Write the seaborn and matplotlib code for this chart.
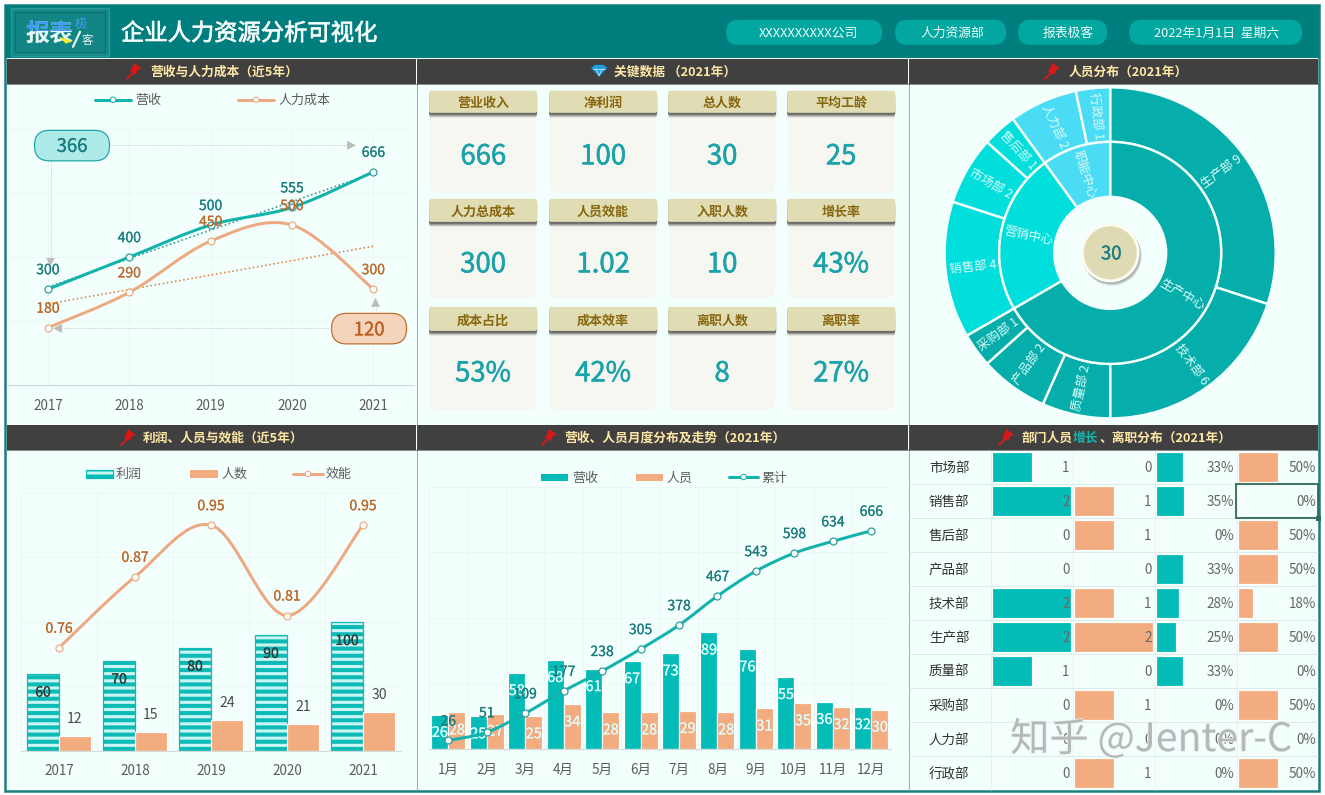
import numpy as np
import pandas as pd
import matplotlib
matplotlib.use("Agg")
import matplotlib.pyplot as plt
import matplotlib.patheffects as pe
from matplotlib.patches import FancyBboxPatch, Rectangle, Polygon, Circle, PathPatch
from matplotlib.path import Path
import seaborn as sns

sns.set_theme(style="white")
plt.rcParams["font.family"] = ["Noto Sans CJK SC", "DejaVu Sans"]
plt.rcParams["hatch.linewidth"] = 3.4
plt.rcParams["axes.unicode_minus"] = False

# ---- data ----
years = ["2017", "2018", "2019", "2020", "2021"]
revenue = [300, 400, 500, 555, 666]
labor_cost = [180, 290, 450, 500, 300]
profit = [60, 70, 80, 90, 100]
headcount = [12, 15, 24, 21, 30]
efficiency = [0.76, 0.87, 0.95, 0.81, 0.95]

months = ["1月", "2月", "3月", "4月", "5月", "6月", "7月", "8月", "9月", "10月", "11月", "12月"]
month_revenue = [26, 25, 58, 68, 61, 67, 73, 89, 76, 55, 36, 32]
month_staff = [28, 27, 25, 34, 28, 28, 29, 28, 31, 35, 32, 30]
month_total = [26, 51, 109, 177, 238, 305, 378, 467, 543, 598, 634, 666]

kpi_titles = ["营业收入", "净利润", "总人数", "平均工龄",
              "人力总成本", "人员效能", "入职人数", "增长率",
              "成本占比", "成本效率", "离职人数", "离职率"]
kpi_values = ["666", "100", "30", "25", "300", "1.02", "10", "43%", "53%", "42%", "8", "27%"]

center_names = ["生产中心", "营销中心", "职能中心"]
center_sizes = [20, 7, 3]
dept_ring_names = ["生产部", "技术部", "质量部", "产品部", "采购部", "销售部", "市场部", "售后部", "人力部", "行政部"]
dept_ring_sizes = [9, 6, 2, 2, 1, 4, 2, 1, 2, 1]

table_depts = ["市场部", "销售部", "售后部", "产品部", "技术部", "生产部", "质量部", "采购部", "人力部", "行政部"]
joined = [1, 2, 0, 0, 2, 2, 1, 0, 0, 0]
left_staff = [0, 1, 1, 0, 1, 2, 0, 1, 0, 1]
growth_pct = [33, 35, 0, 33, 28, 25, 33, 0, 0, 0]
leave_pct = [50, 0, 50, 50, 18, 50, 0, 50, 0, 50]

header_pills = ["XXXXXXXXXX公司", "人力资源部", "报表极客", "2022年1月1日  星期六"]

# ---- palette ----
TEAL = "#04bcb7"
LINE_TEAL = "#12b2ad"
ORANGE = "#f3ac7f"
LINE_ORANGE = "#edaa82"
DARK_TEAL = "#1c7c7e"
DARK_ORANGE = "#bd6a2c"
GREY = "#5c5c5c"
PANEL = "#f2fffd"
GRID = "#ebf8f6"
HEAD = "#007e7e"
BAR_HEAD = "#404040"
GOLD = "#ffe8a6"

# ---- pixel helpers ----
D = 86
W, H = 1325, 795
fig = plt.figure(figsize=((W + 0.2) / D, (H + 0.2) / D), dpi=D, facecolor="white")


def pt(px):
    return px * 72 / D


def heavy(color, px=0.5):
    """Thin same-colour outline that gives text a medium weight."""
    return [pe.withStroke(linewidth=pt(px), foreground=color)]


def panel_axes(x0, y0, x1, y1, z=2):
    ax = fig.add_axes([x0 / W, 1 - y1 / H, (x1 - x0) / W, (y1 - y0) / H], zorder=z)
    ax.patch.set_alpha(0)
    return ax


def smooth_path(xs, ys):
    """Cubic Bezier path running through every point (Catmull-Rom tangents)."""
    xs, ys = np.asarray(xs, float), np.asarray(ys, float)
    verts = [(xs[0], ys[0])]
    codes = [Path.MOVETO]
    n = len(xs)
    for i in range(n - 1):
        p0 = (xs[max(i - 1, 0)], ys[max(i - 1, 0)])
        p3 = (xs[min(i + 2, n - 1)], ys[min(i + 2, n - 1)])
        verts.append((xs[i] + (xs[i + 1] - p0[0]) / 6, ys[i] + (ys[i + 1] - p0[1]) / 6))
        verts.append((xs[i + 1] - (p3[0] - xs[i]) / 6, ys[i + 1] - (p3[1] - ys[i]) / 6))
        verts.append((xs[i + 1], ys[i + 1]))
        codes += [Path.CURVE4] * 3
    return Path(verts, codes)


def draw_curve(ax, values, color, marker_edge=None):
    xs = np.arange(len(values))
    ax.add_patch(PathPatch(smooth_path(xs, values), fill=False, edgecolor=color,
                           lw=pt(3), capstyle="round", zorder=3))
    sns.scatterplot(x=xs, y=values, ax=ax, s=pt(7) ** 2, color="#f4fffd",
                    edgecolor=marker_edge or color, linewidth=pt(1.2), zorder=4, legend=False)
    ax.set_xlabel("")
    ax.set_ylabel("")


def value_labels(ax, values, color, dy, fmt=str, size=14):
    for i, v in enumerate(values):
        ax.annotate(fmt(v), (i, v), xytext=(0, pt(dy)), textcoords="offset points",
                    ha="center", va="center", color=color, fontsize=pt(size), zorder=6,
                    path_effects=heavy(color, 0.2))


def style_chart(ax, labels, grid_on_category=False, tick_pad=10):
    n = len(labels)
    ax.set_xlim(-0.5, n - 0.5)
    ax.set_xticks(np.arange(n))
    ax.set_xticklabels(labels)
    ax.tick_params(axis="x", length=0, pad=pt(tick_pad), labelsize=pt(13.5), labelcolor=GREY)
    ax.tick_params(axis="y", length=0, labelleft=False)
    ax.set_xlabel("")
    ax.set_ylabel("")
    for name in ("top", "left", "right"):
        ax.spines[name].set_visible(False)
    ax.spines["bottom"].set_color("#d2dcdc")
    ax.spines["bottom"].set_linewidth(pt(1.2))
    ax.grid(axis="y", color=GRID, lw=pt(1))
    ax.set_axisbelow(True)
    gx = np.arange(n) if grid_on_category else np.arange(n + 1) - 0.5
    for g in gx:
        ax.axvline(g, color=GRID, lw=pt(1), zorder=0)


# ---- background canvas ----
bg = fig.add_axes([0, 0, 1, 1], zorder=0)
bg.set_xlim(0, W)
bg.set_ylim(H, 0)
bg.axis("off")

bg.add_patch(Rectangle((5, 5), 1314, 786, fc=PANEL, ec=DARK_TEAL, lw=pt(2.5)))
bg.add_patch(Rectangle((5, 5), 1314, 53, fc=HEAD, ec="none"))
for x0, x1 in [(7, 416), (417, 908), (909, 1318)]:
    for y0, y1 in [(59, 84), (425, 450)]:
        bg.add_patch(Rectangle((x0, y0), x1 - x0, y1 - y0, fc=BAR_HEAD, ec="none"))
for x in (416.5, 908.5):
    bg.plot([x, x], [84, 790], color="#3a6a6a", lw=pt(1), ls=(0, (1, 1)))
for y in (84.5, 450.5):
    bg.plot([7, 1318], [y, y], color="#202020", lw=pt(1), ls=(0, (1, 1)))

# logo block
bg.add_patch(Rectangle((11, 8), 98, 48, fc="#178888", ec="#2a9c9c", lw=pt(1.2)))
bg.add_patch(Rectangle((15, 12), 90, 40, fc="#148585", ec="#0b6f70", lw=pt(1.2)))
bg.text(49, 34, "报表", color="#e6f7f7", fontsize=pt(24), fontweight="bold", ha="center", va="center")
logo_top = bg.text(49, 34, "报表", color="#3f9df0", fontsize=pt(24), fontweight="bold",
                   ha="center", va="center", clip_on=True)
logo_top.set_clip_path(Rectangle((0, 0), 120, 31, transform=bg.transData))
bg.add_patch(Polygon([[59, 37], [72, 41], [66, 44]], fc="#f5ee2a", ec="none", zorder=5))
bg.plot([73, 80], [47, 32], color="#eaf7f7", lw=pt(2.2))
bg.text(81, 24, "极", color="#3f9df0", fontsize=pt(12.5), ha="center", va="center")
bg.text(87, 40, "客", color="#eaf7f7", fontsize=pt(11.5), ha="center", va="center")

bg.text(121, 34, "企业人力资源分析可视化", color="#f4fbfb", fontsize=pt(23.3), ha="left", va="center",
        path_effects=heavy("#f4fbfb", 0.7))

pill_spans = [(726, 882), (895, 1006), (1018, 1107), (1129, 1302)]
pill_text_x = [808, 952, 1068, 1216]
for (x0, x1), tx, label in zip(pill_spans, pill_text_x, header_pills):
    bg.add_patch(FancyBboxPatch((x0, 20), x1 - x0, 25, boxstyle="round,pad=0,rounding_size=12.5",
                                fc="#02a8a0", ec="none"))
    bg.text(tx, 33, label, color="#effcfb", fontsize=pt(12.8), ha="center", va="center")


def pin(cx, cy):
    body = [[-1, -8], [7, -2], [3, -1], [1, 4], [-5, 1], [-3, -3]]
    bg.add_patch(Polygon([[cx + a, cy + b] for a, b in body], fc="#d81818", ec="none", zorder=4))
    bg.plot([cx - 2, cx - 8], [cy + 2, cy + 8], color="#d81818", lw=pt(2), zorder=4)


def gem(cx, cy):
    shape = [[-8, -3], [-4, -6], [4, -6], [8, -3], [0, 6]]
    bg.add_patch(Polygon([[cx + a, cy + b] for a, b in shape], fc="#1f9de2", ec="none", zorder=4))
    bg.plot([cx - 6, cx + 6], [cy - 2, cy - 2], color="#bfe8fb", lw=pt(0.8), zorder=5)
    bg.plot([cx - 3, cx, cx + 3], [cy - 2, cy + 5, cy - 2], color="#bfe8fb", lw=pt(0.8), zorder=5)


def section_title(x, y, text):
    bg.text(x, y, text, color=GOLD, fontsize=pt(12.8), fontweight="bold", ha="left", va="center")


pin(135, 71)
section_title(150, 72, "营收与人力成本（近5年）")
gem(599, 71)
section_title(614, 72, "关键数据 （2021年）")
pin(1053, 71)
section_title(1068, 72, "人员分布（2021年）")
pin(129, 437)
section_title(143, 438, "利润、人员与效能（近5年）")
pin(550, 437)
section_title(564, 438, "营收、人员月度分布及走势（2021年）")
pin(1007, 437)
section_title(1021, 438, "部门人员")
bg.text(1073, 438, "增长", color="#12b8b0", fontsize=pt(12.8), fontweight="bold", ha="left", va="center")
section_title(1099, 438, "、离职分布（2021年）")


def legend_line(x0, x1, y, color):
    bg.plot([x0, x1], [y, y], color=color, lw=pt(3))
    bg.add_patch(Circle(((x0 + x1) / 2, y), 2.8, fc="#f4fffd", ec=color, lw=pt(1), zorder=4))


def legend_text(x, y, text):
    bg.text(x, y, text, color=GREY, fontsize=pt(13), ha="left", va="center")


legend_line(95, 131, 100, LINE_TEAL)
legend_text(135, 100, "营收")
legend_line(238, 274, 100, LINE_ORANGE)
legend_text(278, 100, "人力成本")

bg.add_patch(Rectangle((85.5, 470), 27, 8, fc="#c8f6f4", ec=TEAL, lw=pt(1.2), hatch="--"))
legend_text(116, 474, "利润")
bg.add_patch(Rectangle((190, 470), 28, 8, fc=ORANGE, ec="none"))
legend_text(221, 474, "人数")
legend_line(293, 323, 474, LINE_ORANGE)
legend_text(325, 474, "效能")

bg.add_patch(Rectangle((541, 474), 27, 7, fc=TEAL, ec="none"))
legend_text(572, 478, "营收")
bg.add_patch(Rectangle((636, 474), 27, 7, fc=ORANGE, ec="none"))
legend_text(666, 478, "人员")
legend_line(729, 758, 477, LINE_TEAL)
legend_text(761, 478, "累计")

# ---- KPI cards ----
col_spans = [(429, 537), (549, 657), (668, 776), (787, 895)]
row_geom = [(91, 113, 193, 103, 157), (199, 222, 298, 212, 265), (307, 331, 410, 321, 374)]
for r, (head_top, head_bot, body_bot, title_y, value_y) in enumerate(row_geom):
    for c, (x0, x1) in enumerate(col_spans):
        k = r * 4 + c
        bg.add_patch(FancyBboxPatch((x0 + 1, head_bot - 4), x1 - x0 - 2, body_bot - head_bot + 4,
                                    boxstyle="round,pad=0,rounding_size=8", fc="#f7f7f2", ec="none"))
        for off, alpha in ((5, 0.10), (4, 0.18), (3, 0.30), (2, 0.40)):
            bg.add_patch(FancyBboxPatch((x0, head_top + off), x1 - x0, head_bot - head_top,
                                        boxstyle="round,pad=0,rounding_size=2",
                                        fc="#303030", ec="none", alpha=alpha))
        bg.add_patch(FancyBboxPatch((x0, head_top), x1 - x0, head_bot - head_top,
                                    boxstyle="round,pad=0,rounding_size=2", fc="#e0dcb3", ec="none"))
        bg.text((x0 + x1) / 2, title_y, kpi_titles[k], color="#86660f", fontsize=pt(13),
                fontweight="bold", ha="center", va="center")
        bg.text((x0 + x1) / 2, value_y, kpi_values[k], color="#1ba2aa", fontsize=pt(27.5),
                ha="center", va="center", path_effects=heavy("#1ba2aa", 0.55))

# ---- revenue vs labour cost ----
ax1 = panel_axes(7.3, 129, 414, 385.5)
ax1.set_ylim(0, 800)
style_chart(ax1, years, grid_on_category=True, tick_pad=13)
ax1.set_yticks([0, 200, 400, 600, 800])
xs5 = np.arange(len(years))
for series, trend_color in ((revenue, "#2f9494"), (labor_cost, "#d98345")):
    slope, intercept = np.polyfit(xs5, series, 1)
    ax1.plot(xs5, slope * xs5 + intercept, color=trend_color, lw=pt(1.6), ls=(0, (1, 1.6)), zorder=2)
draw_curve(ax1, labor_cost, LINE_ORANGE)
draw_curve(ax1, revenue, LINE_TEAL, marker_edge="#2c9a9a")
value_labels(ax1, revenue, DARK_TEAL, 19)
value_labels(ax1, labor_cost, DARK_ORANGE, 19)

# ---- profit, headcount, efficiency ----
frame = pd.DataFrame({
    "year": years * 2,
    "value": profit + headcount,
    "kind": ["利润"] * 5 + ["人数"] * 5,
})
ax2 = panel_axes(21, 493, 401, 751)
sns.barplot(data=frame, x="year", y="value", hue="kind", hue_order=["利润", "人数"],
            palette=["#c8f6f4", ORANGE], width=0.84, gap=0, saturation=1, legend=False, ax=ax2)
ax2.set_ylim(0, 200)
style_chart(ax2, years, tick_pad=13)
ax2.set_yticks([0, 50, 100, 150, 200])
for patch in ax2.containers[0]:
    patch.set(hatch="--", edgecolor="#0ebab5", linewidth=pt(1.2), facecolor="#c8f6f4")
for t in ax2.bar_label(ax2.containers[0], padding=-pt(19), color="#2e3a3a", fontsize=pt(14),
                       path_effects=heavy("#2e3a3a", 0.2)):
    t.set_va("center")
for t in ax2.bar_label(ax2.containers[1], padding=pt(17), color="#4a4a4a", fontsize=pt(14)):
    t.set_va("center")
ax2b = ax2.twinx()
ax2b.patch.set_alpha(0)
ax2b.set_ylim(0.6, 1.0)
ax2b.axis("off")
draw_curve(ax2b, efficiency, LINE_ORANGE)
value_labels(ax2b, efficiency, DARK_ORANGE, 19, fmt=lambda v: f"{v:.2f}")

# ---- monthly revenue and staff ----
frame_m = pd.DataFrame({
    "month": months * 2,
    "value": month_revenue + month_staff,
    "kind": ["营收"] * 12 + ["人员"] * 12,
})
ax3 = panel_axes(429, 487, 890.4, 749)
sns.barplot(data=frame_m, x="month", y="value", hue="kind", hue_order=["营收", "人员"],
            palette=[TEAL, ORANGE], width=0.885, gap=0, saturation=1, legend=False, ax=ax3)
ax3.set_ylim(0, 200)
style_chart(ax3, months, tick_pad=13.5)
ax3.set_yticks([0, 50, 100, 150, 200])
for cont in ax3.containers:
    for t in ax3.bar_label(cont, padding=-pt(18), color="#dffcfa", fontsize=pt(14.5),
                           path_effects=heavy("#dffcfa", 0.2)):
        t.set_va("center")
ax3b = ax3.twinx()
ax3b.patch.set_alpha(0)
ax3b.set_ylim(0, 800)
ax3b.axis("off")
draw_curve(ax3b, month_total, LINE_TEAL, marker_edge="#2c9a9a")
value_labels(ax3b, month_total, DARK_TEAL, 19)

# ---- staff sunburst ----
ax4 = panel_axes(1110 - 170, 253 - 170, 1110 + 170, 253 + 170)
R_OUT, R_MID, R_IN = 165.5, 111, 56
ring_colors_in = ["#06aeab", "#00dfdc", "#4bdcf5"]
ring_colors_out = ["#06aeab"] * 5 + ["#00dfdc"] * 3 + ["#4bdcf5"] * 2
ax4.pie(dept_ring_sizes, radius=R_OUT, startangle=90, counterclock=False, colors=ring_colors_out,
        wedgeprops=dict(width=R_OUT - R_MID, edgecolor="#f4fffd", linewidth=pt(2.4)))
ax4.pie(center_sizes, radius=R_MID, startangle=90, counterclock=False, colors=ring_colors_in,
        wedgeprops=dict(width=R_MID - R_IN, edgecolor="#f4fffd", linewidth=pt(2.4)))
ax4.set_xlim(-170, 170)
ax4.set_ylim(-170, 170)
ax4.set_aspect("equal")


def ring_labels(sizes, texts, radius):
    total = sum(sizes)
    start = 0.0
    for size, text in zip(sizes, texts):
        mid = start + size / 2
        start += size
        theta = 90 - mid / total * 360
        rad = np.deg2rad(theta)
        rot = ((theta + 90) % 180) - 90
        ax4.text(radius * np.cos(rad), radius * np.sin(rad), text, rotation=rot, rotation_mode="anchor",
                 ha="center", va="center", color="#dcfbfa", fontsize=pt(12.5))


ring_labels(dept_ring_sizes, [f"{n} {s}" for n, s in zip(dept_ring_names, dept_ring_sizes)], 138)
ring_labels(center_sizes, center_names, 83)
for dx, alpha in ((3.5, 0.10), (2.5, 0.16), (1.5, 0.22)):
    ax4.add_patch(Circle((dx * 0.6, -dx), 29.5, fc="#404040", ec="none", alpha=alpha, zorder=3))
ax4.add_patch(Circle((0, 0), 28, fc="#dedbb4", ec="#fbfbf0", lw=pt(3), zorder=4))
ax4.text(1, -1.5, str(sum(dept_ring_sizes)), color=DARK_TEAL, fontsize=pt(18.5), ha="center",
         va="center", zorder=5, path_effects=heavy(DARK_TEAL, 0.3))

# ---- department table ----
ROW_TOP, ROW_H = 450, 34
for i, name in enumerate(table_depts):
    y = ROW_TOP + ROW_H * i + ROW_H / 2 + 1
    bg.text(949, y, name, color="#333333", fontsize=pt(13.5), ha="center", va="center")
    if i:
        bg.plot([909, 1318], [ROW_TOP + ROW_H * i] * 2, color="#c9d6d4", lw=pt(1), ls=(0, (1, 1)))
for x in (991, 1072.5, 1154.5, 1236.5):
    bg.plot([x, x], [451, 790], color="#d8e6e4", lw=pt(1), ls=(0, (1, 1)))

table_columns = [
    (992, 1071, joined, 2.0, TEAL, "{}", 1069.5),
    (1074, 1153, left_staff, 2.0, ORANGE, "{}", 1151.5),
    (1156, 1235, growth_pct, 98.75, TEAL, "{}%", 1233.5),
    (1238, 1317, leave_pct, 98.75, ORANGE, "{}%", 1315.5),
]
for x0, x1, vals, full, color, fmt, right in table_columns:
    ax = panel_axes(x0, ROW_TOP, x1, ROW_TOP + ROW_H * 10)
    sns.barplot(x=vals, y=table_depts, orient="h", color=color, saturation=1, width=0.88, ax=ax)
    ax.set_xlim(0, full)
    ax.set_ylim(9.5, -0.5)
    ax.axis("off")
    for i, v in enumerate(vals):
        ax.annotate(fmt.format(v), (1, i), xycoords=("axes fraction", "data"),
                    xytext=(pt(right - x1), -pt(1)), textcoords="offset points",
                    ha="right", va="center", color="#666666", fontsize=pt(13.5))

# ---- overlay: callouts, selected cell, watermark ----
top = fig.add_axes([0, 0, 1, 1], zorder=20)
top.set_xlim(0, W)
top.set_ylim(H, 0)
top.axis("off")
top.patch.set_alpha(0)

GUIDE = dict(color="#c4cccc", lw=pt(1), ls=(0, (1, 1.2)))
top.plot([110, 347], [145.5, 145.5], **GUIDE)
top.add_patch(Polygon([[347, 141], [347, 150], [356, 145.5]], fc="#bdbdbd", ec="none"))
top.plot([50.5, 50.5], [161, 258], **GUIDE)
top.add_patch(Polygon([[46, 258], [55, 258], [50.5, 266]], fc="#bdbdbd", ec="none"))
top.plot([331, 62], [328.5, 328.5], **GUIDE)
top.add_patch(Polygon([[62, 324], [62, 333], [53, 328.5]], fc="#bdbdbd", ec="none"))
top.plot([375.5, 375.5], [313, 307], **GUIDE)
top.add_patch(Polygon([[371, 307], [380, 307], [375.5, 298]], fc="#bdbdbd", ec="none"))

top.add_patch(FancyBboxPatch((34.5, 130.5), 75, 30.5, boxstyle="round,pad=0,rounding_size=15",
                             fc="#aeeaea", ec="#19a5a5", lw=pt(1.2)))
top.text(72, 147, str(revenue[-1] - revenue[0]), color=DARK_TEAL, fontsize=pt(18.5), ha="center", va="center",
         path_effects=heavy(DARK_TEAL, 0.3))
top.add_patch(FancyBboxPatch((331.5, 313.5), 75, 30.5, boxstyle="round,pad=0,rounding_size=15",
                             fc="#f5d4bc", ec="#bd6a2c", lw=pt(1.2)))
top.text(369, 330.5, str(labor_cost[-1] - labor_cost[0]), color="#bd5f22", fontsize=pt(18.5), ha="center", va="center",
         path_effects=heavy("#bd5f22", 0.3))

top.add_patch(Rectangle((1236, 484), 82, 34.5, fill=False, ec="#2f6b56", lw=pt(1.8)))
top.add_patch(Rectangle((1316, 516.5), 4.5, 4.5, fc="#2f6b56", ec="none"))

top.text(1010, 740, "知乎 @Jenter-C", color="#b4b8b8", fontsize=pt(39.3), ha="left", va="center", alpha=0.95,
         path_effects=[pe.withStroke(linewidth=pt(1.5), foreground="#eef6f6")])

fig.savefig("out.png", dpi=D, facecolor="white")
